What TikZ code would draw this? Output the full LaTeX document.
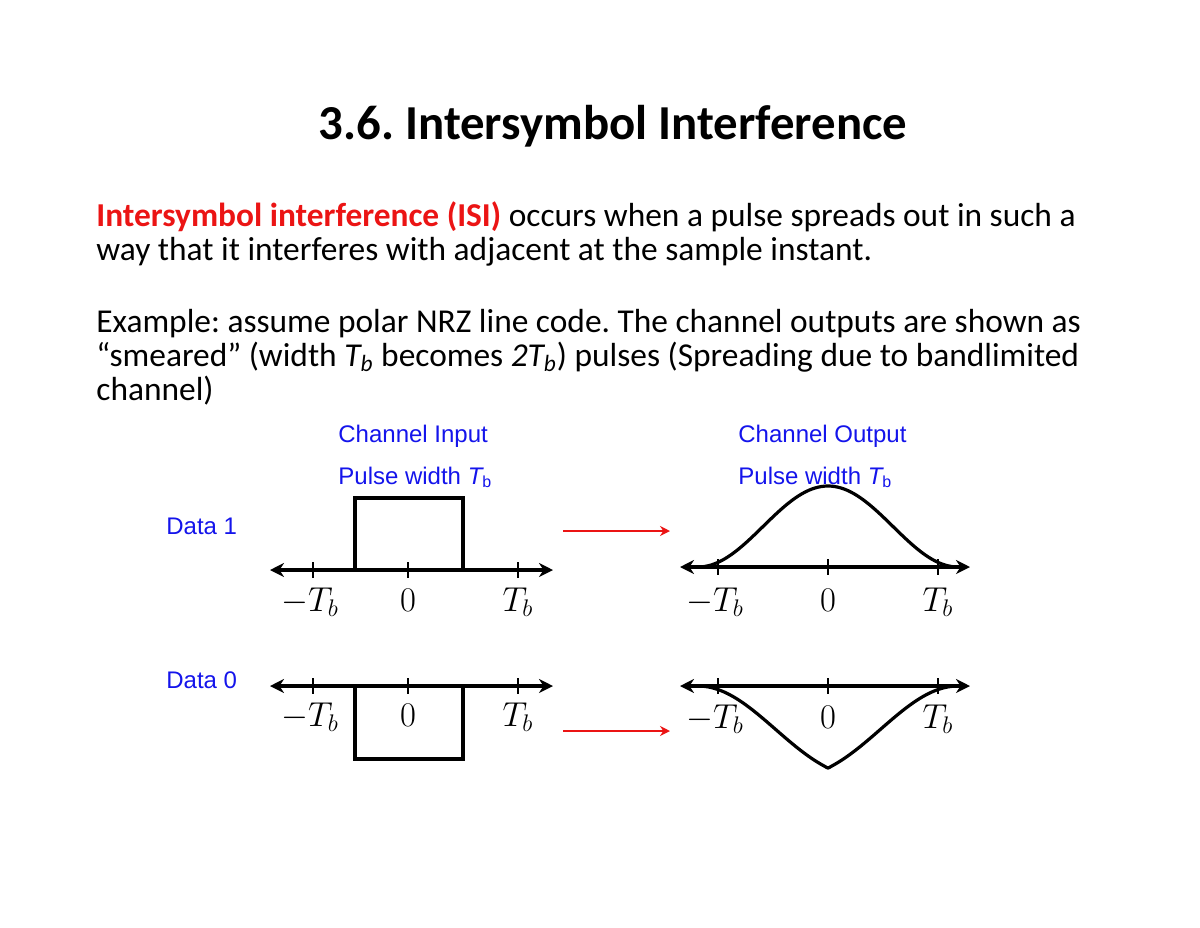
\documentclass[tikz,border=0pt]{standalone}
\usepackage{fontspec}
\setmainfont{Carlito}
\newfontfamily\arialf{Liberation Sans}
\usetikzlibrary{arrows.meta}
\definecolor{isired}{RGB}{235,20,20}
\definecolor{lblblue}{RGB}{20,20,235}
\frenchspacing
\tikzset{
  px/.style={x=0.5pt,y=-0.5pt},
  axis/.style={line width=1.6pt,{Stealth[length=7pt,width=7pt]}-{Stealth[length=7pt,width=7pt]}},
  tick/.style={line width=1.3pt},
  pulse/.style={line width=1.6pt},
  redarrow/.style={isired,line width=1.3pt,-{Stealth[length=5pt,width=5pt]}},
  body/.style={anchor=base west,inner sep=0,font=\fontsize{16.7}{19}\selectfont},
  lbl/.style={anchor=base,inner sep=0,font=\fontsize{17}{19}\selectfont},
  blue/.style={anchor=base west,inner sep=0,text=lblblue,font=\arialf\fontsize{12}{14}\selectfont},
}
\begin{document}
\begin{tikzpicture}[px]
\useasboundingbox (0,0) rectangle (1200,927);
\node[anchor=base,inner sep=0,font=\bfseries\fontsize{24.4}{28}\selectfont] (title) at (613,139) {3.6. Intersymbol Interference};
\node[body] (l1) at (96,226) {\textbf{\textcolor{isired}{Intersymbol interference (ISI)}} occurs when a pulse spreads out in such a};
\node[body] (l2) at (96,260) {way that it interferes with adjacent at the sample instant.};
\node[body] (l3) at (96,332) {Example: assume polar NRZ line code. The channel outputs are shown as};
\node[body] (l4) at (96,366) {``smeared'' (width \textit{T\textsubscript{b}} becomes \textit{2T\textsubscript{b}}) pulses (Spreading due to bandlimited};
\node[body] (l5) at (96,400) {channel)};
\node[blue] (ci) at (338,442) {Channel Input};
\node[blue] (pi) at (338,484) {Pulse width {\itshape T}\textsubscript{b}};
\node[blue] (co) at (738,442) {Channel Output};
\node[blue] (po) at (738,484) {Pulse width {\itshape T}\textsubscript{b}};
\node[blue] (d1) at (166,534) {Data 1};
\node[blue] (d0) at (166,688) {Data 0};
% top left
\draw[pulse] (355,570) -- (355,498) -- (463,498) -- (463,570);
\draw[axis] (270,570) -- (553,570);
\foreach \x in {313,408,518} \draw[tick] (\x,562) -- (\x,578);
\node[lbl] at (310,611) {$-T_b$};
\node[lbl] at (408,611) {$0$};
\node[lbl] at (518,611) {$T_b$};
% top right
\draw[pulse] plot[domain=-1:1,samples=81,smooth] ({828+130*\x},{567-81*(0.5+0.5*cos(180*\x))});
\draw[axis] (680,567) -- (970,567);
\foreach \x in {718,828,938} \draw[tick] (\x,559) -- (\x,575);
\node[lbl] at (715,611) {$-T_b$};
\node[lbl] at (828,611) {$0$};
\node[lbl] at (938,611) {$T_b$};
% bottom left
\draw[pulse] (355,686) -- (355,759) -- (463,759) -- (463,686);
\draw[axis] (270,686) -- (553,686);
\foreach \x in {313,408,518} \draw[tick] (\x,678) -- (\x,694);
\node[lbl] at (310,726) {$-T_b$};
\node[lbl] at (408,726) {$0$};
\node[lbl] at (518,726) {$T_b$};
% bottom right
\draw[pulse] plot[domain=-1:1,samples=81,smooth] ({828+130*\x},{686+82*(0.5*(0.5-0.5*cos(180*(1-abs(\x))))+0.5*(1-cos(90*(1-abs(\x)))))});
\draw[axis] (680,686) -- (970,686);
\foreach \x in {718,828,938} \draw[tick] (\x,678) -- (\x,694);
\node[lbl] at (715,728) {$-T_b$};
\node[lbl] at (828,728) {$0$};
\node[lbl] at (938,728) {$T_b$};
% red arrows
\coordinate (a1s) at (563,531); \coordinate (a1e) at (670,531);
\coordinate (a2s) at (563,731); \coordinate (a2e) at (670,731);
\draw[redarrow] (a1s) -- (a1e);
\draw[redarrow] (a2s) -- (a2e);
\end{tikzpicture}
\end{document}
